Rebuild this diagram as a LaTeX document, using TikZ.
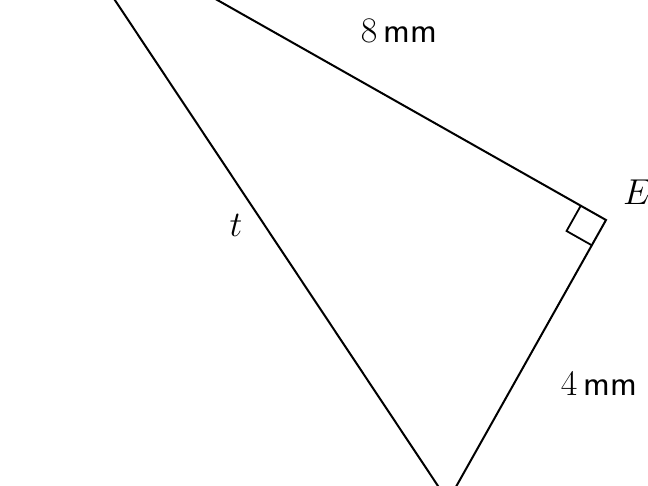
\RequirePackage{fix-cm}
\documentclass[tikz,border=0pt]{standalone}
\usetikzlibrary{calc}
\begin{document}
\begin{tikzpicture}[x=1pt,y=-1pt,
  edge/.style={line width=2pt,line join=miter},
  lbl/.style={font=\fontsize{36}{40}\selectfont,inner sep=0pt}]
\useasboundingbox (0,0) rectangle (648,485);
\clip (0,0) rectangle (648,485);
\coordinate (A) at (53,-93);
\coordinate (E) at (606,220);
\coordinate (C) at (448,501);
\draw[edge] (A) -- (E) -- (C) -- cycle;
\coordinate (Ra) at ($(E)!29pt!(A)$);
\coordinate (Rc) at ($(E)!29pt!(C)$);
\draw[line width=1.8pt] (Ra) -- ($(Ra)+(Rc)-(E)$) -- (Rc);
\node[lbl] (l8) at (399,31) {$8\,$\textsf{mm}};
\node[lbl] (l4) at (599,384) {$4\,$\textsf{mm}};
\node[lbl] (lt) at (236,225) {$t$};
\node[lbl,anchor=west] (lE) at (623,192) {$E$};
\end{tikzpicture}
\end{document}
